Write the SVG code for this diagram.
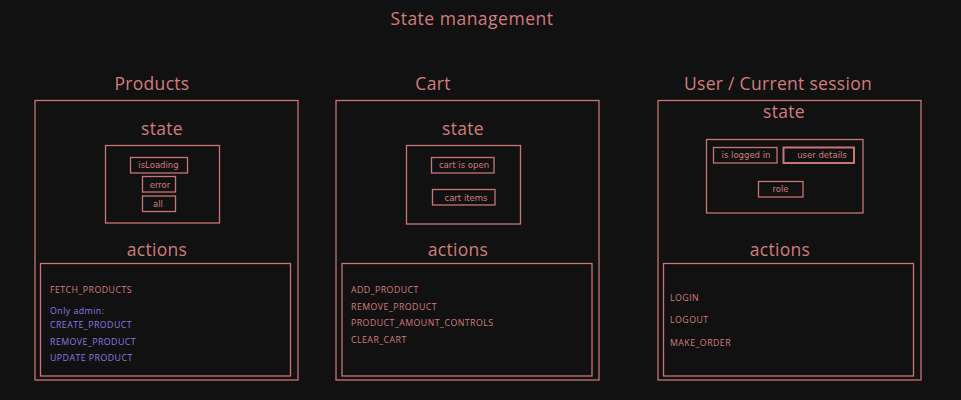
<svg xmlns="http://www.w3.org/2000/svg" width="961" height="400" viewBox="0 0 961 400">
<style>
text{font-family:"Open Sans","Liberation Sans",sans-serif;fill:#d27d7d}
.h{font-size:17.5px;text-anchor:middle;letter-spacing:0.3px}
.t{font-size:17.5px;text-anchor:middle;letter-spacing:0.3px}
.s{font-family:"DejaVu Sans","Liberation Sans",sans-serif;font-size:8.5px;text-anchor:middle}
.a{font-size:8.8px;letter-spacing:0.45px}
.p{fill:#8a7be0}
rect{fill:none;stroke:#c87575;stroke-width:1.3}
.thick{stroke-width:2}
</style>
<rect x="0" y="0" width="961" height="400" style="fill:#111111;stroke:none"/>
<text class="h" x="472" y="25" style="letter-spacing:0.5px">State management</text>
<g id="products">
<text class="h" x="152" y="90">Products</text>
<rect x="35" y="100.5" width="263" height="279.5"/>
<text class="t" x="162" y="135">state</text>
<rect x="105.5" y="145.5" width="114" height="77.5"/>
<rect x="130.5" y="157.5" width="57" height="15.5"/>
<text class="s" x="158.5" y="168.3">isLoading</text>
<rect x="142.5" y="176.5" width="33" height="15.5"/>
<text class="s" x="160" y="187.8">error</text>
<rect x="142.5" y="196" width="33" height="15.5"/>
<text class="s" x="158" y="206.8">all</text>
<text class="t" x="157" y="256">actions</text>
<rect x="40.5" y="263.5" width="250" height="112.5"/>
<text class="a" x="50" y="293">FETCH_PRODUCTS</text>
<text class="a p" x="50" y="314">Only admin:</text>
<text class="a p" x="50" y="328">CREATE_PRODUCT</text>
<text class="a p" x="50" y="345">REMOVE_PRODUCT</text>
<text class="a p" x="50" y="361">UPDATE PRODUCT</text>
</g>
<g id="cart">
<text class="h" x="433" y="90">Cart</text>
<rect x="336" y="100.5" width="263" height="279.5"/>
<text class="t" x="463" y="135">state</text>
<rect x="406.5" y="145.5" width="114" height="78.5"/>
<rect x="431.5" y="157.5" width="62.5" height="15.5"/>
<text class="s" x="464" y="168.3">cart is open</text>
<rect x="432.5" y="189.5" width="62.5" height="15.5"/>
<text class="s" x="466" y="200.8">cart items</text>
<text class="t" x="458" y="256">actions</text>
<rect x="342" y="263.5" width="250" height="112.5"/>
<text class="a" x="351" y="293">ADD_PRODUCT</text>
<text class="a" x="351" y="310">REMOVE_PRODUCT</text>
<text class="a" x="351" y="326">PRODUCT_AMOUNT_CONTROLS</text>
<text class="a" x="351" y="343">CLEAR_CART</text>
</g>
<g id="user">
<text class="h" x="778" y="90">User / Current session</text>
<rect x="658" y="100.5" width="263" height="279.5"/>
<text class="t" x="784" y="118">state</text>
<rect x="706.5" y="139.5" width="156.5" height="73.5"/>
<rect x="713.5" y="147.5" width="63.5" height="15.5"/>
<text class="s" x="746" y="158.3">is logged in</text>
<rect x="783.5" y="147.5" width="70.5" height="15.5" class="thick"/>
<text class="s" x="822" y="158.3">user details</text>
<rect x="758.5" y="181.5" width="44.5" height="15.5"/>
<text class="s" x="780.5" y="192.3">role</text>
<text class="t" x="780" y="256">actions</text>
<rect x="663.5" y="263.5" width="250" height="112.5"/>
<text class="a" x="670" y="301">LOGIN</text>
<text class="a" x="670" y="323">LOGOUT</text>
<text class="a" x="670" y="346">MAKE_ORDER</text>
</g>
<g id="connectors"></g>
</svg>
